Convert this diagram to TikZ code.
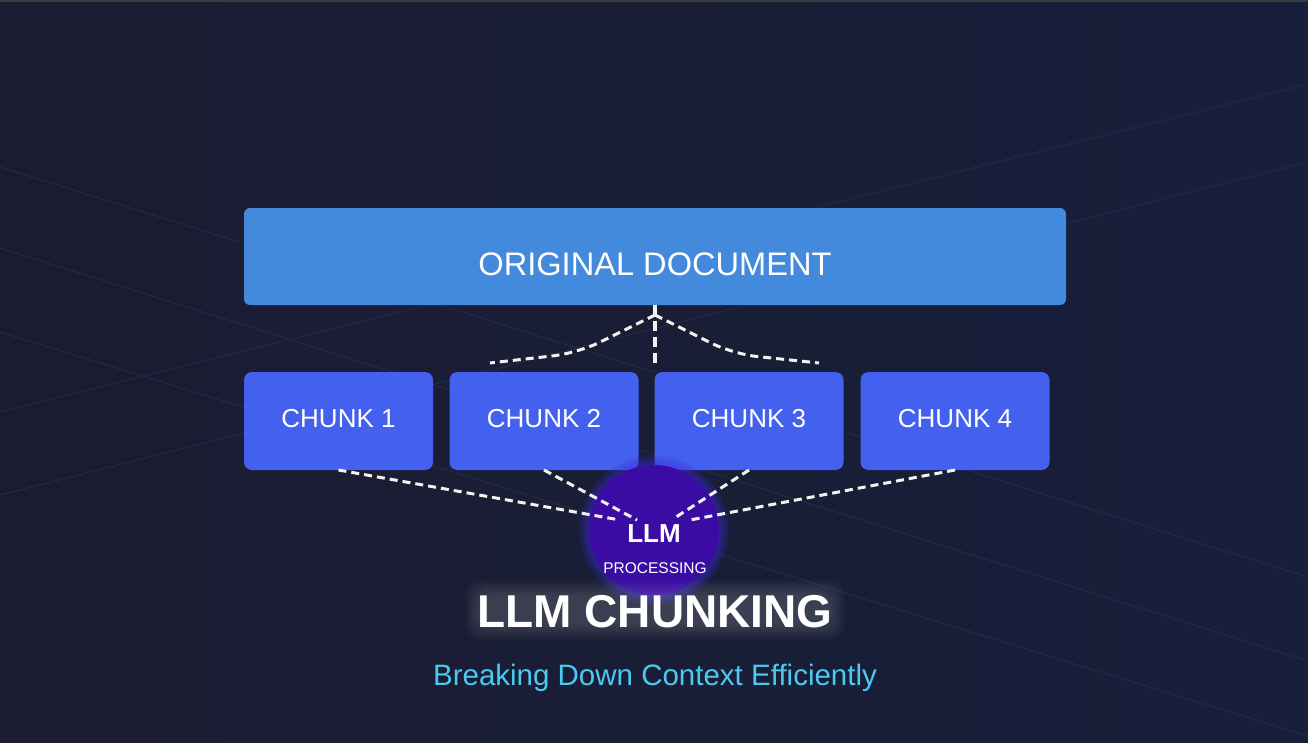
\documentclass[tikz,border=0pt]{standalone}
\usepackage{fontspec}
\setmainfont{Liberation Sans}
\definecolor{bgA}{HTML}{1B1C31}
\definecolor{bgB}{HTML}{171F3B}
\definecolor{topgrey}{HTML}{3A3B40}
\definecolor{gridcol}{HTML}{222D4A}
\definecolor{docblue}{HTML}{438ADC}
\definecolor{chunkblue}{HTML}{4361EE}
\definecolor{llmpurple}{HTML}{3A0CA3}
\definecolor{glowblue}{HTML}{3F2BE0}
\definecolor{subcyan}{HTML}{4CC9F0}
\definecolor{dashwhite}{HTML}{F2F2EE}
\tikzset{
  gridln/.style={draw=gridcol, line width=0.9pt},
  docbox/.style={rectangle, rounded corners=6pt, fill=docblue, minimum width=822pt, minimum height=97pt, inner sep=0pt, outer sep=0pt},
  chunkbox/.style={rectangle, rounded corners=8pt, fill=chunkblue, minimum width=189pt, minimum height=98pt, inner sep=0pt, outer sep=0pt},
  doctext/.style={text=white, inner sep=0pt, font=\fontsize{32.6}{36}\selectfont},
  chunktext/.style={text=white, inner sep=0pt, font=\fontsize{26}{30}\selectfont},
  llmcircle/.style={circle, fill=llmpurple, minimum size=130pt, inner sep=0pt, outer sep=0pt},
  llmtext/.style={text=white, inner sep=0pt, font=\fontsize{26}{30}\selectfont\bfseries},
  proctext/.style={text=white, inner sep=0pt, font=\fontsize{15.5}{18}\selectfont},
  titletext/.style={text=white, inner sep=0pt, font=\fontsize{46}{50}\selectfont\bfseries},
  subtext/.style={text=subcyan, inner sep=0pt, font=\fontsize{29.5}{33}\selectfont},
  vdashln/.style={draw=dashwhite, line width=4pt, dash pattern=on 10pt off 6pt},
  cdashln/.style={draw=dashwhite, line width=3pt, dash pattern=on 8pt off 5pt},
  bdashln/.style={draw=dashwhite, line width=3pt, dash pattern=on 8pt off 5pt},
  haze/.style={fill=white, opacity=0.02},
}
\begin{document}
\begin{tikzpicture}[x=1pt,y=-1pt]
\useasboundingbox (0,0) rectangle (1308,742);
% background
\shade[left color=bgA, right color=bgB] (0,0) rectangle (1308,742);
\fill[topgrey] (0,0) rectangle (1308,2);
% faint background lines
\draw[gridln] (0,167) -- (1308,577);
\draw[gridln] (0,248) -- (1308,661);
\draw[gridln] (0,332) -- (1308,736);
\draw[gridln] (0,412) -- (1308,84);
\draw[gridln] (0,495) -- (1308,162);
% boxes
\node[docbox] (doc) at (655,256.5) {};
\node[doctext, anchor=base] (doclabel) at (655,275) {ORIGINAL DOCUMENT};
\node[chunkbox] (c1) at (338.5,421) {};
\node[chunkbox] (c2) at (544,421) {};
\node[chunkbox] (c3) at (749,421) {};
\node[chunkbox] (c4) at (955,421) {};
\node[chunktext, anchor=base] (c1t) at (338.5,427) {CHUNK 1};
\node[chunktext, anchor=base] (c2t) at (544,427) {CHUNK 2};
\node[chunktext, anchor=base] (c3t) at (749,427) {CHUNK 3};
\node[chunktext, anchor=base] (c4t) at (955,427) {CHUNK 4};
% LLM circle with glow
\foreach \r in {75,73,71,69,67}{
  \fill[glowblue, opacity=0.12] (654,530) circle (\r pt);
}
\node[llmcircle] (llm) at (654,530) {};
% top connectors
\coordinate (split) at (655,315);
\coordinate (vend) at (655,366);
\coordinate (lbend) at (578,353);
\coordinate (lend) at (490,363);
\coordinate (rbend) at (733,354);
\coordinate (rend) at (819,363);
\draw[vdashln] (doc.south) -- (vend);
\draw[cdashln, rounded corners=24pt] (split) -- (lbend) -- (lend);
\draw[cdashln, rounded corners=24pt] (split) -- (rbend) -- (rend);
% bottom connectors
\coordinate (e1) at (620,520);
\coordinate (e2) at (637,520);
\coordinate (e3) at (673,519);
\coordinate (e4) at (690,520);
\draw[bdashln] (c1.south) -- (e1);
\draw[bdashln] (c2.south) -- (e2);
\draw[bdashln] (c3.south) -- (e3);
\draw[bdashln] (c4.south) -- (e4);
% circle texts
\node[llmtext, anchor=base] (llmlabel) at (654,542) {LLM};
\node[proctext, anchor=base] (proclabel) at (655,573) {PROCESSING};
% title glow (soft haze behind the title)
\foreach \g in {-3,-1,...,13}{
  \fill[haze, rounded corners=16pt] (478-\g,593-\g) rectangle (832+\g,627+\g);
}
\node[titletext, anchor=base] (title) at (655,627) {LLM CHUNKING};
\node[subtext, anchor=base] (subtitle) at (655,685) {Breaking Down Context Efficiently};
\end{tikzpicture}
\end{document}
